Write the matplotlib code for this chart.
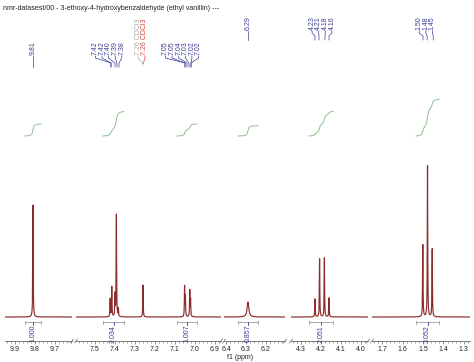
import numpy as np
import matplotlib.pyplot as plt

plt.rcParams['font.family'] = ['Liberation Sans', 'DejaVu Sans']

##### DATA #####
# axis segments of the broken ppm axis (left edge, right edge)
seg_left = [9.95, 7.595, 6.41, 4.35, 1.75]
seg_right = [9.615, 6.87, 6.105, 3.965, 1.27]

# spectrum lines: position (ppm), height (a.u.), half width (ppm)
line_ppm = [9.810, 7.424, 7.416, 7.400, 7.393, 7.383, 7.260, 7.052, 7.048, 7.026, 7.022,
            6.290, 4.230, 4.207, 4.183, 4.160, 1.501, 1.478, 1.455]
line_height = [112, 18, 30, 22, 102, 8, 32, 30, 20, 26, 17,
               15, 18, 58, 59, 19, 72, 151, 68]
line_hw = [0.0012] * 11 + [0.005] + [0.0012] * 7

# integrals
int_from = [9.85, 7.46, 7.09, 6.34, 4.26, 1.535]
int_to = [9.77, 7.355, 6.99, 6.24, 4.14, 1.42]
int_value = [1.000, 2.034, 1.007, 0.857, 2.051, 3.052]

# peak picking labels
peak_groups = [['9.81'],
               ['7.42', '7.42', '7.40', '7.39', '7.38'],
               ['7.05', '7.05', '7.04', '7.03', '7.02', '7.02'],
               ['6.29'],
               ['4.23', '4.21', '4.18', '4.16'],
               ['1.50', '1.48', '1.45']]
solvent_labels = ['7.26 CDCl3', '7.26 CDCl3']
solvent_ppm = 7.26

title = 'nmr-datasest/00 - 3-ethoxy-4-hydroxybenzaldehyde (ethyl vanillin) ---'

##### STYLE / LAYOUT #####
W, H = 474, 362
seg_px = [(5, 72), (76, 221), (224, 285), (291, 368), (372, 470)]
axis_y = 341        # px of the ppm axis line
base_y = 317        # px of spectrum baseline
spec_col = '#8e2b2b'
lab_col = '#3b3b96'
int_col = '#8fbf8f'
bar_col = '#9a9aaa'

fig = plt.figure(figsize=(W / 100, H / 100), dpi=100)

axes = []
for (l, r), a, b in zip(seg_px, seg_left, seg_right):
    ax = fig.add_axes([l / W, 1 - axis_y / H, (r - l) / W, axis_y / H])
    ax.set_xlim(a, b)
    ax.set_ylim(-(axis_y - base_y), base_y)
    ax.patch.set_visible(False)
    for s in ['top', 'left', 'right']:
        ax.spines[s].set_visible(False)
    ax.spines['bottom'].set_color('#666666')
    ax.spines['bottom'].set_linewidth(0.6)
    ax.set_yticks([])
    ax.set_xticks(np.arange(np.ceil(b * 10) / 10, a + 1e-6, 0.1))
    ax.set_xticks(np.arange(np.ceil(b * 50) / 50, a + 1e-6, 0.02), minor=True)
    ax.xaxis.set_major_formatter(plt.FormatStrFormatter('%.1f'))
    ax.tick_params(axis='x', which='major', length=2.5, width=0.5, labelsize=5,
                   pad=1, colors='#666666', labelcolor='#222222')
    ax.tick_params(axis='x', which='minor', length=1.3, width=0.4, colors='#666666')

    # spectrum
    x = np.arange(b, a, 0.0002)
    y = np.zeros_like(x)
    for p, h, g in zip(line_ppm, line_height, line_hw):
        y += h * g ** 2 / ((x - p) ** 2 + g ** 2)
    ax.plot(x, y, color=spec_col, lw=0.85)
    axes.append(ax)


def seg_of(ppm):
    for i, (a, b) in enumerate(zip(seg_left, seg_right)):
        if b <= ppm <= a:
            return i
    return 0


def ppm_per_px(i):
    return (seg_left[i] - seg_right[i]) / (seg_px[i][1] - seg_px[i][0])


# integrals: curve + bar + value
for f, t, v in zip(int_from, int_to, int_value):
    i = seg_of((f + t) / 2)
    ax = axes[i]
    x = np.linspace(t, f, 400)
    y = np.zeros_like(x)
    for p, h, g in zip(line_ppm, line_height, line_hw):
        gg = 0.004
        y += h * g * gg / ((x - p) ** 2 + gg ** 2)
    c = np.cumsum(y[::-1])[::-1]
    c = (c - c.min()) / (c.max() - c.min()) * v * 12
    ax.plot(x, base_y - 136 + c, color=int_col, lw=0.7, clip_on=False)
    yb = base_y - 322
    ax.plot([f, t], [yb, yb], color=bar_col, lw=0.6, clip_on=False)
    ax.plot([f, f], [yb - 1.5, yb + 1.5], color=bar_col, lw=0.6, clip_on=False)
    ax.plot([t, t], [yb - 1.5, yb + 1.5], color=bar_col, lw=0.6, clip_on=False)
    m = (f + t) / 2
    ax.plot([m, m], [yb, yb - 2.5], color=lab_col, lw=0.6, clip_on=False)
    ax.text(m, yb - 3, '%.3f' % v, rotation=90, ha='center', va='top',
            fontsize=5, color=lab_col)

# peak labels
group_shift = [0, -6, -6, 0, 0, -2]   # px, to make room for the solvent labels
for grp, sh in zip(peak_groups, group_shift):
    vals = [float(s) for s in grp]
    i = seg_of(np.mean(vals))
    ax = axes[i]
    k = ppm_per_px(i)
    top = i >= 2
    if top:
        ys = [base_y - 31, base_y - 33, base_y - 36, base_y - 40]
    else:
        ys = [base_y - 56, base_y - 58, base_y - 63, base_y - 67]
    n = len(grp)
    for j, (s, v) in enumerate(zip(grp, vals)):
        lx = np.mean(vals) - (sh + (j - (n - 1) / 2) * 6.6) * k
        ax.text(lx, ys[0] + 1, s, rotation=90, ha='center', va='bottom',
                fontsize=5, color=lab_col, clip_on=False)
        ax.plot([lx, lx, v, v], ys, color=lab_col, lw=0.5, clip_on=False)

# solvent labels
ax = axes[1]
k = ppm_per_px(1)
for j, (s, c) in enumerate(zip(solvent_labels, ['#a8a8a8', '#e0403a'])):
    lx = solvent_ppm - (-5 + j * 7) * k
    ax.text(lx, base_y - 55, s, rotation=90, ha='center', va='bottom',
            fontsize=5, color=c, clip_on=False)
    ax.plot([lx, lx, solvent_ppm], [base_y - 56, base_y - 58, base_y - 64],
            color=c, lw=0.5, clip_on=False)

# axis break marks
for (l, r) in seg_px:
    for xx in (l, r):
        if xx in (seg_px[0][0], seg_px[-1][1]):
            continue
        fig.add_artist(plt.Line2D([(xx - 1.5) / W, (xx + 1.5) / W],
                                  [1 - (axis_y + 2) / H, 1 - (axis_y - 2) / H],
                                  color='#666666', lw=0.5))

fig.text(3 / W, 1 - 8 / H, title, fontsize=5, va='center', ha='left', color='#222222')
fig.text(240 / W, 1 - 357.5 / H, 'f1 (ppm)', fontsize=5, va='center', ha='center', color='#222222')

fig.savefig('out.png', dpi=100)
